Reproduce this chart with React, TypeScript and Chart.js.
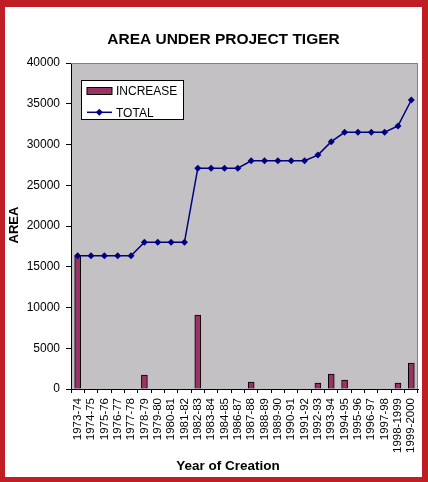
import React, { useEffect, useRef } from "react";
import { Chart, registerables } from "chart.js";

Chart.register(...registerables);

const categories = [
  "1973-74", "1974-75", "1975-76", "1976-77", "1977-78", "1978-79", "1979-80",
  "1980-81", "1981-82", "1982-83", "1983-84", "1984-85", "1986-87", "1987-88",
  "1988-89", "1989-90", "1990-91", "1991-92", "1992-93", "1993-94", "1994-95",
  "1995-96", "1996-97", "1997-98", "1998-1999", "1999-2000",
];

const increase: (number | null)[] = [
  16339, null, null, null, null, 1716, null, null, null, 9070, null, null, null,
  858, null, null, null, null, 735, 1839, 1103, null, null, null, 735, 3187,
];

const total = [
  16339, 16339, 16339, 16339, 16339, 18000, 18000, 18000, 18000, 27100, 27100,
  27100, 27100, 28000, 28000, 28000, 28000, 28000, 28700, 30350, 31500, 31500,
  31500, 31500, 32275, 35460,
];

const yTicks = [0, 5000, 10000, 15000, 20000, 25000, 30000, 35000, 40000];

const chartTitle = "AREA UNDER PROJECT TIGER";
const xTitle = "Year of Creation";
const yTitle = "AREA";
const seriesNames = ["INCREASE", "TOTAL"];

const BAR_COLOR = "#993366";
const LINE_COLOR = "#000080";
const FONT = "Arial, 'Liberation Sans', sans-serif";

const decorPlugin = {
  id: "decor",
  beforeDraw(chart: any) {
    const { ctx, chartArea: a } = chart;
    ctx.save();
    ctx.fillStyle = "#C3C1C4";
    ctx.fillRect(a.left, a.top, a.right - a.left, a.bottom - a.top);
    ctx.restore();
  },
  afterDraw(chart: any) {
    const { ctx, chartArea: a } = chart;
    ctx.save();
    // plot area top/right border
    ctx.strokeStyle = "#808080";
    ctx.lineWidth = 1;
    ctx.beginPath();
    ctx.moveTo(a.left, a.top + 0.5);
    ctx.lineTo(a.right - 0.5, a.top + 0.5);
    ctx.lineTo(a.right - 0.5, a.bottom);
    ctx.stroke();

    // chart title
    ctx.fillStyle = "#000";
    ctx.font = `bold 15.5px ${FONT}`;
    ctx.textAlign = "center";
    ctx.textBaseline = "alphabetic";
    ctx.fillText(chartTitle, 218.5, 36.5);

    // x title
    ctx.font = `bold 13.5px ${FONT}`;
    ctx.fillText(xTitle, 223, 463);

    // y title
    ctx.save();
    ctx.translate(13.3, 218);
    ctx.rotate(-Math.PI / 2);
    ctx.font = `bold 13px ${FONT}`;
    ctx.fillText(yTitle, 0, 0);
    ctx.restore();

    // legend
    const lx = 76, ly = 73, lw = 103, lh = 40;
    ctx.fillStyle = "#fff";
    ctx.fillRect(lx, ly, lw, lh);
    ctx.strokeStyle = "#000";
    ctx.lineWidth = 1;
    ctx.strokeRect(lx + 0.5, ly + 0.5, lw - 1, lh - 1);

    ctx.fillStyle = BAR_COLOR;
    ctx.fillRect(82, 80.5, 25, 7);
    ctx.strokeStyle = "#000";
    ctx.strokeRect(82, 80.5, 25, 7);

    ctx.strokeStyle = LINE_COLOR;
    ctx.lineWidth = 1.5;
    ctx.beginPath();
    ctx.moveTo(82, 105.3);
    ctx.lineTo(107, 105.3);
    ctx.stroke();
    ctx.fillStyle = LINE_COLOR;
    ctx.beginPath();
    ctx.moveTo(94.3, 101.8);
    ctx.lineTo(97.8, 105.3);
    ctx.lineTo(94.3, 108.8);
    ctx.lineTo(90.8, 105.3);
    ctx.closePath();
    ctx.fill();

    ctx.fillStyle = "#000";
    ctx.font = `12px ${FONT}`;
    ctx.textAlign = "left";
    ctx.fillText(seriesNames[0], 111, 88);
    ctx.fillText(seriesNames[1], 111, 109.5);
    ctx.restore();
  },
};

export default function App() {
  const ref = useRef<HTMLCanvasElement>(null);

  useEffect(() => {
    if (!ref.current) return;
    const chart = new Chart(ref.current, {
      type: "bar",
      data: {
        labels: categories,
        datasets: [
          {
            type: "line",
            label: seriesNames[1],
            data: total,
            borderColor: LINE_COLOR,
            backgroundColor: LINE_COLOR,
            borderWidth: 1.5,
            pointStyle: "rectRot",
            pointRadius: 3.5,
            pointBackgroundColor: LINE_COLOR,
            pointBorderColor: LINE_COLOR,
            pointBorderWidth: 0,
            tension: 0,
            order: 0,
          } as any,
          {
            type: "bar",
            label: seriesNames[0],
            data: increase,
            backgroundColor: BAR_COLOR,
            borderColor: "#000",
            borderWidth: 1,
            barThickness: 6,
            order: 1,
          } as any,
        ],
      },
      options: {
        animation: false,
        responsive: false,
        devicePixelRatio: 1,
        layout: { padding: { top: 56, right: 1, left: 0, bottom: 0 } },
        plugins: {
          legend: { display: false },
          title: { display: false },
          tooltip: { enabled: false },
        },
        scales: {
          x: {
            offset: true,
            grid: {
              offset: true,
              drawOnChartArea: false,
              drawTicks: true,
              tickLength: 4,
              color: "#000",
            },
            border: { display: true, color: "#000", width: 1 },
            ticks: {
              autoSkip: false,
              minRotation: 90,
              maxRotation: 90,
              padding: 5,
              color: "#000",
              font: { family: FONT, size: 11.5 },
            },
            afterFit(scale: any) {
              scale.height = 88;
              scale.paddingLeft = 0;
              scale.paddingRight = 0;
            },
          },
          y: {
            min: 0,
            max: 40000,
            afterBuildTicks(scale: any) {
              scale.ticks = yTicks.map((v) => ({ value: v }));
            },
            grid: {
              drawOnChartArea: false,
              drawTicks: true,
              tickLength: 5,
              color: "#000",
            },
            border: { display: true, color: "#000", width: 1 },
            ticks: {
              padding: 6,
              color: "#000",
              font: { family: FONT, size: 12 },
              callback: (v: any) => String(v),
            },
            afterFit(scale: any) {
              scale.width = 66;
              scale.paddingTop = 0;
              scale.paddingBottom = 0;
            },
          },
        },
      },
      plugins: [decorPlugin],
    });
    return () => chart.destroy();
  }, []);

  return (
    <div
      style={{
        position: "fixed",
        left: 0,
        top: 0,
        width: 428,
        height: 482,
        boxSizing: "border-box",
        borderLeft: "5px solid #BE1E24",
        borderTop: "7px solid #BE1E24",
        borderRight: "6px solid #BE1E24",
        borderBottom: "5px solid #BE1E24",
        background: "#fff",
      }}
    >
      <canvas ref={ref} width={417} height={470} style={{ display: "block" }} />
    </div>
  );
}
